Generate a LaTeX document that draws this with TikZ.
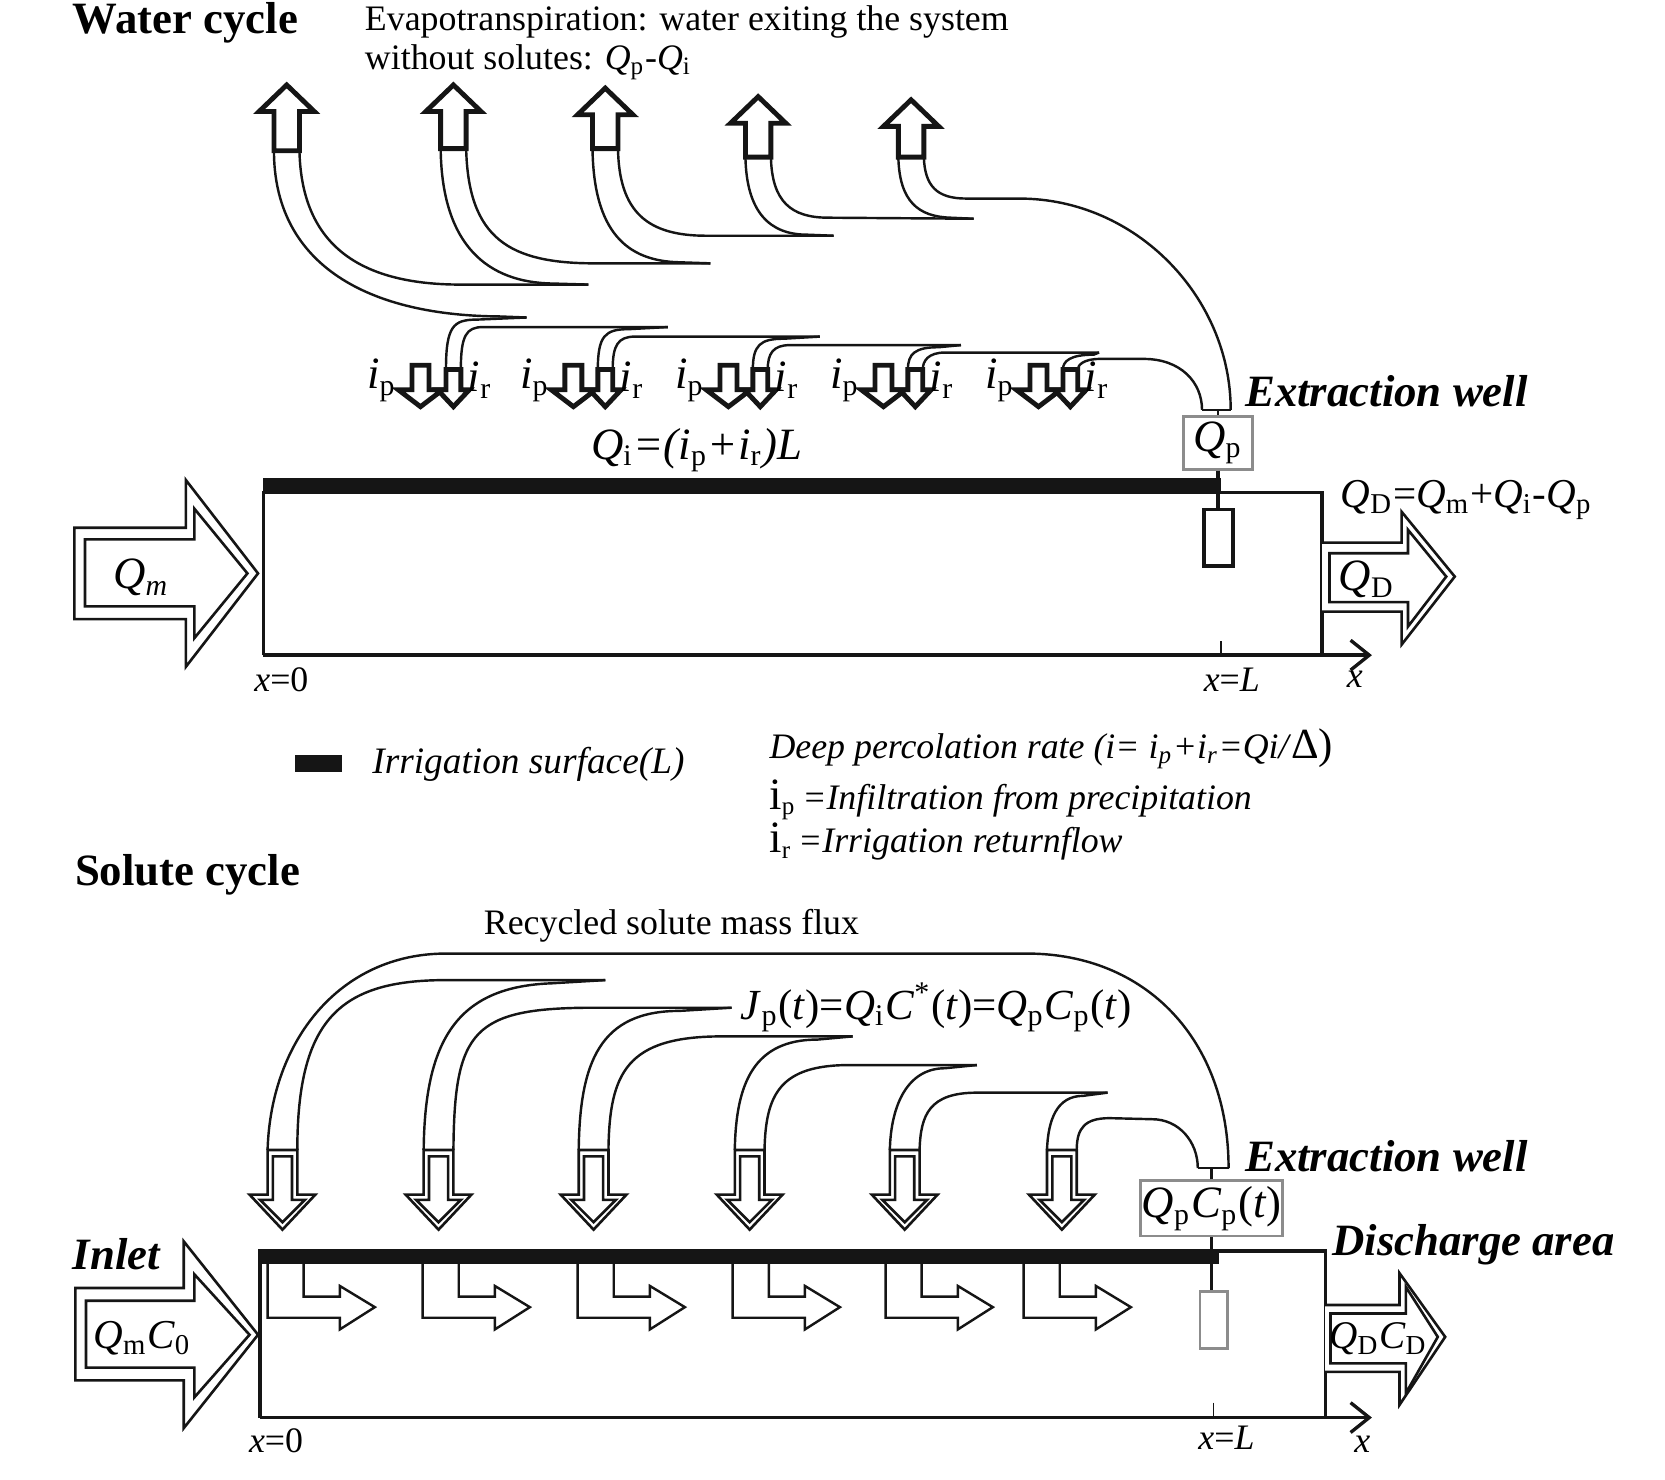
\documentclass[tikz,border=0pt]{standalone}
\usepackage{fontspec}
\setmainfont{Liberation Serif}
\usepackage{tikz}
\usetikzlibrary{arrows.meta,positioning}
\definecolor{ink}{HTML}{151515}
\definecolor{frame}{HTML}{8C8C8C}
\newcommand{\subtx}[1]{\textsubscript{#1}}
\newcommand{\plaintx}{\fontsize{9.6}{11.5}\selectfont}
\newcommand{\legendtx}{\fontsize{9.6}{12}\selectfont}
\newcommand{\mathtx}{\fontsize{12}{14}\selectfont}
\newcommand{\headtx}{\fontsize{12}{14}\selectfont\bfseries}
\newcommand{\placetx}{\fontsize{12}{14}\selectfont\bfseries\itshape}
\tikzset{pipe/.style={draw=ink,line width=.65pt},hollow/.style={draw=ink,line width=1.3pt,fill=white,line join=miter},twin/.style={draw=ink,line width=.7pt,fill=white},wall/.style={draw=ink,line width=.9pt},gbox/.style={draw=frame,line width=.7pt,inner sep=0pt},axisline/.style={-{Straight Barb[length=5pt,width=8pt]},draw=ink,line width=.9pt},tag/.style={inner sep=0pt}}

\begin{document}
\begin{tikzpicture}[x=0.1mm,y=-0.1mm]
 \useasboundingbox (0,0) rectangle (1568,1393);
 % water cycle
 \node[tag,font=\headtx,anchor=base west] (wtitle) at (68,32) {Water cycle};
 \node[tag,font=\plaintx,anchor=base west] (evap1) at (343,29) {Evapotranspiration: water exiting the system};
 \node[tag,font=\plaintx,anchor=base west] (evap2) at (343,65) {without solutes: \textit{Q}\subtx{p}-\textit{Q}\subtx{i}};
 \foreach \cx/\ty/\cb in {270/80/142,427/80/140,570/83/140,714/91/148,858/94/148}
  \draw[hollow] (\cx,\ty) -- (\cx+26,\ty+25) -- (\cx+12,\ty+25) -- (\cx+12,\cb) -- (\cx-12,\cb) -- (\cx-12,\ty+25) -- (\cx-26,\ty+25) -- cycle;
 \draw[pipe] (258,142) .. controls (258,245) and (340,297) .. (470,298) -- (496,299);
 \draw[pipe] (282,142) .. controls (284,232) and (340,267) .. (430,268) -- (554,268);
 \draw[pipe] (415,140) .. controls (416,232) and (460,266) .. (520,267) -- (554,268);
 \draw[pipe] (439,140) .. controls (441,225) and (480,248) .. (560,248) -- (669,248);
 \draw[pipe] (558,140) .. controls (559,218) and (590,246) .. (640,247) -- (669,248);
 \draw[pipe] (582,140) .. controls (583,200) and (610,222) .. (665,222) -- (785,222);
 \draw[pipe] (702,148) .. controls (703,200) and (725,221) .. (760,221) -- (785,222);
 \draw[pipe] (726,148) .. controls (727,190) and (745,205) .. (780,205) -- (917,206);
 \draw[pipe] (846,148) .. controls (847,190) and (865,204) .. (895,205) -- (917,206);
 \draw[pipe] (870,148) .. controls (871,175) and (882,187) .. (910,187) -- (960,187) .. controls (1070,187) and (1159,280) .. (1159,386);
 % return flow tubes
 \foreach \r/\lp/\lt/\ln/\nt in {427/299/496/308/629,570/308/629/317/772,716/317/772/325/905,862/325/905/332/1035}{
  \draw[pipe] (\r-7,348) .. controls (\r-7,\lp+8) and (\r,\lp+2) .. (\r+22,\lp+2) -- (\lt,\lp);
  \draw[pipe] (\r+7,348) .. controls (\r+7,\ln+8) and (\r+12,\ln) .. (\r+28,\ln) -- (\nt,\ln);}
 \draw[pipe] (1001,348) .. controls (1001,340) and (1008,334) .. (1030,334) -- (1035,332);
 \draw[pipe] (1015,348) .. controls (1015,344) and (1020,338) .. (1036,338) -- (1077,338) .. controls (1112,338) and (1132,360) .. (1132,386);
 \foreach \p in {396,540,686,832,978}
  \draw[hollow] (\p-8,344) -- (\p-8,367) -- (\p-21,367) -- (\p,383) -- (\p+21,367) -- (\p+8,367) -- (\p+8,344) -- cycle;
 \foreach \r in {427,570,716,862,1008}
  \draw[hollow] (\r-7,348) -- (\r-7,367) -- (\r-15,367) -- (\r,383) -- (\r+15,367) -- (\r+7,367) -- (\r+7,348) -- cycle;
 \foreach \p/\r [count=\k] in {396/427,540/570,686/716,832/862,978/1008}{
  \node[tag,font=\mathtx,anchor=east] (ip\k) at (\p-22,358) {\textit{i}\subtx{p}};
  \node[tag,font=\mathtx,anchor=west] (ir\k) at (\r+13,358) {\textit{i}\subtx{r}};}
 \node[gbox,minimum width=6.5mm,minimum height=5mm,font=\mathtx] (qp) at (1147,417) {\textit{Q}\subtx{p}};
 \draw[pipe] (1132,386) -- (1159,386);
 \draw[pipe] (qp.north) -- ++(0,-6);
 \node[tag,font=\placetx,anchor=west] (well1) at (1172,368) {Extraction well};
 \node[tag,font=\mathtx] (qisum) at (656,424) {\textit{Q\subtx{\upshape i}=(i\subtx{\upshape p}+i\subtx{\upshape r})L}};
 % aquifer, water
 \fill[ink] (248,450) rectangle (1150,464);
 \draw[wall] (248,617) -- (248,464) -- (1245,464) -- (1245,617);
 \draw[axisline] (248,617) -- (1292,617);
 \draw[ink,line width=.4pt] (1150,604) -- (1150,617);
 \draw[wall] (qp.south) -- (1147,480);
 \draw[wall] (1134,480) rectangle (1161,533);
 \draw[twin] (70,497) -- (175,497) -- (175,452) -- (243,540) -- (175,628) -- (175,583) -- (70,583) -- cycle;
 \draw[twin] (80,508) -- (183,508) -- (183,479) -- (233,540) -- (183,601) -- (183,571) -- (80,571) -- cycle;
 \node[tag,font=\mathtx] (qm) at (133,544) {\textit{Q}\textsubscript{\textit{m}}};
 \draw[twin] (1245,511) -- (1320,511) -- (1320,482) -- (1370,543) -- (1320,607) -- (1320,576) -- (1245,576);
 \draw[twin] (1252,521) -- (1326,521) -- (1326,499) -- (1362,543) -- (1326,590) -- (1326,567) -- (1252,567) -- cycle;
 \node[tag,font=\mathtx] (qd) at (1287,546) {\textit{Q}\subtx{D}};
 \node[tag,font=\fontsize{11}{13}\selectfont,anchor=base west] (qdsum) at (1262,478) {\textit{Q}\subtx{D}=\textit{Q}\subtx{m}+\textit{Q}\subtx{i}-\textit{Q}\subtx{p}};
 \node[tag,font=\legendtx] (x0w) at (265,640) {\textit{x}=0};
 \node[tag,font=\legendtx] (xlw) at (1160,640) {\textit{x}=\textit{L}};
 \node[tag,font=\legendtx] (xw) at (1276,640) {\textit{x}};
 % legend
 \fill[ink] (278,711) rectangle (322,727);
 \node[tag,font=\fontsize{10}{12}\selectfont,anchor=west] (legend) at (350,720) {\textit{Irrigation surface(L)}};
 \node[tag,font=\legendtx,anchor=base west] (perc) at (724,714) {\textit{Deep percolation rate (i= i\subtx{p}+i\subtx{r}=Qi/}{\fontsize{11.5}{14}\selectfont Δ)}};
 \node[tag,font=\legendtx,anchor=base west] (infp) at (724,762) {{\fontsize{12}{14}\selectfont i}\subtx{p}\,\textit{=Infiltration from precipitation}};
 \node[tag,font=\legendtx,anchor=base west] (infr) at (724,803) {{\fontsize{12}{14}\selectfont i}\subtx{r}\,\textit{=Irrigation returnflow}};
 % solute cycle
 \node[tag,font=\headtx,anchor=base west] (stitle) at (70,834) {Solute cycle};
 \node[tag,font=\plaintx,anchor=base west] (recyc) at (455,880) {Recycled solute mass flux};
 \draw[pipe] (252,1083) .. controls (255,980) and (320,898) .. (420,898) -- (967,898) .. controls (1080,898) and (1157,980) .. (1157,1100);
 \draw[pipe] (280,1083) .. controls (280,960) and (320,923) .. (420,923) -- (570,923);
 \draw[pipe] (399,1083) .. controls (400,980) and (430,929) .. (520,926) -- (570,923);
 \draw[pipe] (427,1083) .. controls (428,970) and (445,949) .. (560,949) -- (689,949);
 \draw[pipe] (545,1083) .. controls (546,1000) and (565,952) .. (640,952) -- (689,949);
 \draw[pipe] (573,1083) .. controls (574,1010) and (590,976) .. (680,976) -- (803,976);
 \draw[pipe] (692,1083) .. controls (693,1020) and (710,979) .. (770,979) -- (803,976);
 \draw[pipe] (720,1083) .. controls (721,1030) and (735,1003) .. (800,1003) -- (920,1003);
 \draw[pipe] (838,1083) .. controls (839,1040) and (855,1006) .. (890,1006) -- (920,1003);
 \draw[pipe] (866,1083) .. controls (867,1050) and (875,1029) .. (920,1029) -- (1043,1029);
 \draw[pipe] (986,1083) .. controls (987,1055) and (995,1032) .. (1020,1032) -- (1043,1029);
 \draw[pipe] (1014,1083) .. controls (1014,1062) and (1022,1053) .. (1045,1053) -- (1085,1054) .. controls (1110,1054) and (1128,1075) .. (1128,1100);
 \foreach \cx in {266,413,559,706,852,1000}{
  \draw[twin] (\cx-14,1083) -- (\cx-14,1125) -- (\cx-31,1125) -- (\cx,1158) -- (\cx+31,1125) -- (\cx+14,1125) -- (\cx+14,1083) -- cycle;
  \draw[twin] (\cx-9,1089) -- (\cx-9,1130) -- (\cx-21,1130) -- (\cx,1151) -- (\cx+21,1130) -- (\cx+9,1130) -- (\cx+9,1089) -- cycle;}
 \node[tag,font=\fontsize{11.5}{14}\selectfont,anchor=west] (jp) at (697,949) {\textit{J}\subtx{p}(\textit{t})=\textit{Q}\subtx{i}\textit{C}\textsuperscript{*}(\textit{t})=\textit{Q}\subtx{p}\textit{C}\subtx{p}(\textit{t})};
 \node[gbox,minimum width=13.4mm,minimum height=5.2mm,font=\mathtx] (qc) at (1141,1138) {\textit{Q}\subtx{p}\textit{C}\subtx{p}(\textit{t})};
 \draw[pipe] (1128,1100) -- (1157,1100);
 \draw[pipe] (qc.north) -- ++(0,-12);
 \node[tag,font=\placetx,anchor=west] (well2) at (1172,1089) {Extraction well};
 % aquifer, solute
 \fill[ink] (245,1177) rectangle (1148,1190);
 \draw[wall] (245,1335) -- (245,1178) -- (1248,1178) -- (1248,1335);
 \draw[axisline] (245,1335) -- (1292,1335);
 \draw[ink,line width=.4pt] (1143,1321) -- (1143,1335);
 \draw[ink,line width=.7pt] (qc.south) -- ++(0,52);
 \draw[frame,line width=.7pt] (1130,1216) rectangle (1156,1270);
 \foreach \a in {252,398,544,690,834,964}
  \draw[pipe] (\a,1190) -- (\a,1241) -- (\a+68,1241) -- (\a+68,1252) -- (\a+101,1231) -- (\a+68,1211) -- (\a+68,1221) -- (\a+34,1221) -- (\a+34,1190);
 \draw[twin] (71,1213) -- (173,1213) -- (173,1169) -- (243,1257) -- (173,1345) -- (173,1300) -- (71,1300) -- cycle;
 \draw[twin] (81,1225) -- (183,1225) -- (183,1200) -- (235,1257) -- (183,1316) -- (183,1288) -- (81,1288) -- cycle;
 \node[tag,font=\fontsize{11}{13}\selectfont] (qmc) at (134,1260) {\textit{Q}\subtx{m}\textit{C}\subtx{0}};
 \draw[twin] (1248,1229) -- (1318,1229) -- (1318,1199) -- (1361,1259) -- (1318,1323) -- (1318,1292) -- (1248,1292);
 \draw[twin] (1253,1237) -- (1324,1237) -- (1324,1212) -- (1354,1259) -- (1324,1312) -- (1324,1284) -- (1253,1284) -- cycle;
 \node[tag,font=\fontsize{10.5}{13}\selectfont] (qdc) at (1298,1261) {\textit{Q}\subtx{D}\textit{C}\subtx{D}};
 \node[tag,font=\placetx,anchor=west] (inlet) at (68,1181) {Inlet};
 \begin{scope}
  \clip (1240,1140) rectangle (1519,1210);
  \node[tag,font=\placetx,anchor=west] (disch) at (1254,1172) {Discharge area};
 \end{scope}
 \node[tag,font=\legendtx] (x0s) at (260,1357) {\textit{x}=0};
 \node[tag,font=\legendtx] (xls) at (1155,1354) {\textit{x}=\textit{L}};
 \node[tag,font=\legendtx] (xs) at (1283,1360) {\textit{x}};
\end{tikzpicture}
\end{document}
